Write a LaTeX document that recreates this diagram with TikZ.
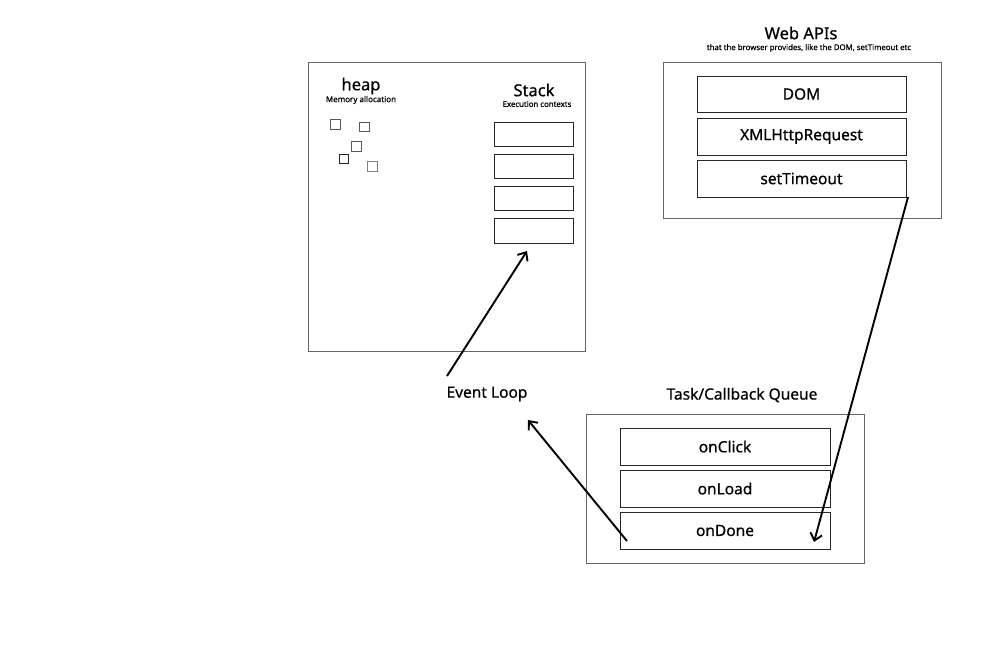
\documentclass[tikz,border=0pt]{standalone}
\usepackage{fontspec}
\setmainfont{Noto Sans}[UprightFeatures={FakeBold=0.6}]
\usetikzlibrary{arrows.meta}
\begin{document}
\begin{tikzpicture}[x=1pt,y=-1pt,
  outer/.style={draw=black!60,line width=0.9pt},
  inner/.style={draw=black!85,line width=0.9pt},
  sq/.style={draw=black!65,line width=0.8pt},
  lbl/.style={inner sep=0pt,font=\fontsize{15.5}{18}\selectfont},
  ttl/.style={inner sep=0pt,font=\fontsize{16.5}{19}\selectfont},
  sub/.style={inner sep=0pt,font=\fontsize{8}{9}\selectfont},
  tiny/.style={inner sep=0pt,font=\fontsize{7.8}{9}\selectfont},
  flow/.style={line width=1.9pt,-{Straight Barb[length=7pt,width=12pt,line width=1.9pt]}}]
\useasboundingbox (0,0) rectangle (1000,649);
% main box
\draw[outer] (308,62) rectangle (585,351);
\node[ttl] (heap) at (361,86) {heap};
\node[sub] (heapsub) at (361,100) {Memory allocation};
\node[ttl] (stack) at (534,90) {Stack};
\node[tiny] (stacksub) at (537,104) {Execution contexts};
\draw[inner] (494,122) rectangle (573,146);
\draw[inner] (494,154) rectangle (573,178);
\draw[inner] (494,186) rectangle (573,210);
\draw[inner] (494,218) rectangle (573,243);
% heap squares
\draw[sq] (330,119) rectangle (340,129);
\draw[sq] (359,122) rectangle (369,131);
\draw[sq] (351,141) rectangle (361,151);
\draw[sq,draw=black!85] (339,154) rectangle (348,163);
\draw[sq,draw=black!50] (367,161) rectangle (377,171);
% web apis
\node[ttl] (web) at (801,33) {Web APIs};
\node[tiny] (websub) at (809,48) {that the browser provides, like the DOM, setTimeout etc};
\draw[outer] (663,62) rectangle (941,218);
\node[inner,lbl,minimum width=209pt,minimum height=36pt] (dom) at (801.5,94) {DOM};
\node[inner,lbl,minimum width=209pt,minimum height=37pt] (xhr) at (801.5,136.5) {XMLHttpRequest};
\node[inner,lbl,minimum width=209pt,minimum height=37pt] (st) at (801.5,178.5) {setTimeout};
% queue
\node[lbl] (queue) at (742,395) {Task/Callback Queue};
\draw[outer] (586,414) rectangle (864,563);
\node[inner,lbl,minimum width=210pt,minimum height=37pt] (click) at (725,446.5) {onClick};
\node[inner,lbl,minimum width=210pt,minimum height=37pt] (load) at (725,488.5) {onLoad};
\node[inner,lbl,minimum width=210pt,minimum height=37pt] (done) at (725,530.5) {onDone};
% event loop
\node[lbl] (loop) at (487,394) {Event Loop};
\coordinate (a1s) at (447,376);
\coordinate (a1e) at (527,251);
\coordinate (a2s) at (627,541);
\coordinate (a2e) at (528,420);
\coordinate (a3s) at (908,197);
\coordinate (a3e) at (814,542);
\draw[flow] (a1s) -- (a1e);
\draw[flow] (a2s) -- (a2e);
\draw[flow] (a3s) -- (a3e);
\end{tikzpicture}
\end{document}
